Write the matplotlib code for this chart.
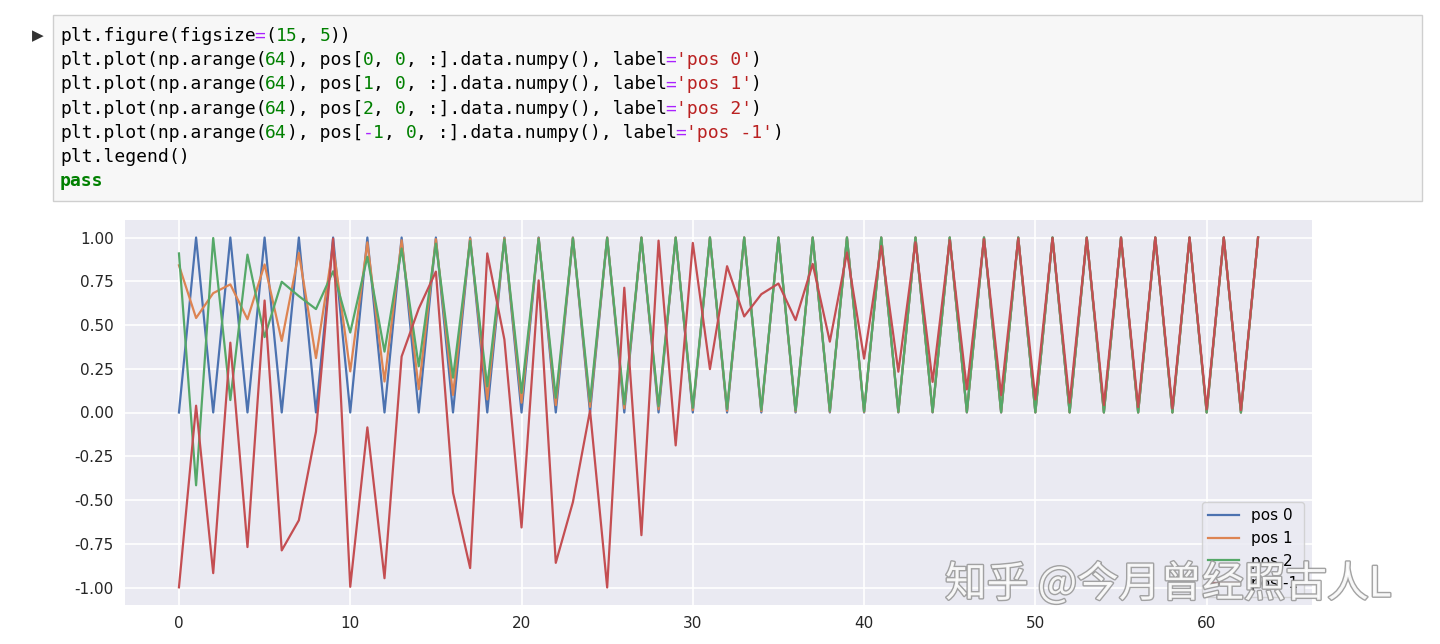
import numpy as np
import matplotlib
matplotlib.use("Agg")
import matplotlib.pyplot as plt
import matplotlib.patheffects as pe
from matplotlib.patches import Rectangle

x = np.arange(64)
pos0 = [0, 1] * 32
pos1 = [0.841, 0.540, 0.682, 0.732, 0.533, 0.846, 0.409, 0.912, 0.311, 0.950, 0.235, 0.972,
        0.177, 0.984, 0.133, 0.991, 0.100, 0.995, 0.075, 0.997, 0.056, 0.998, 0.042, 0.999,
        0.032, 1.000, 0.024, 1.000, 0.018, 1.000, 0.013, 1.000, 0.010, 1.000, 0.0075, 1.0,
        0.0056, 1.0, 0.0042, 1.0, 0.0032, 1.0, 0.0024, 1.0, 0.0018, 1.0, 0.0013, 1.0, 0.001, 1.0,
        0.00075, 1.0, 0.00056, 1.0, 0.00042, 1.0, 0.00032, 1.0, 0.00024, 1.0, 0.00018, 1.0,
        0.00013, 1.0]
pos2 = [0.909, -0.416, 0.997, 0.071, 0.902, 0.431, 0.747, 0.665, 0.591, 0.807, 0.457, 0.890,
        0.348, 0.937, 0.264, 0.965, 0.199, 0.980, 0.149, 0.989, 0.112, 0.994, 0.084, 0.996,
        0.063, 0.998, 0.047, 0.999, 0.036, 0.999, 0.027, 1.0, 0.020, 1.0, 0.015, 1.0, 0.011, 1.0,
        0.0084, 1.0, 0.0063, 1.0, 0.0047, 1.0, 0.0036, 1.0, 0.0027, 1.0, 0.002, 1.0, 0.0015, 1.0,
        0.0011, 1.0, 0.00084, 1.0, 0.00063, 1.0, 0.00047, 1.0, 0.00036, 1.0, 0.00027, 1.0]
posm1 = [-0.999, 0.039, -0.918, 0.399, -0.769, 0.640, -0.788, -0.616, -0.109, 0.994,
         -0.996, -0.085, -0.947, 0.320, 0.594, 0.805, -0.458, -0.889, 0.909, 0.417,
         -0.657, 0.755, -0.859, -0.512, 0.011, -1.000, 0.713, -0.701, 0.982, -0.188,
         0.969, 0.248, 0.836, 0.549, 0.676, 0.737, 0.528, 0.849, 0.405, 0.914,
         0.308, 0.951, 0.233, 0.973, 0.175, 0.985, 0.132, 0.991, 0.099, 0.995,
         0.074, 0.997, 0.056, 0.998, 0.042, 0.999, 0.031, 1.0, 0.023, 1.0, 0.018, 1.0, 0.013, 1.0]
labels = ['pos 0', 'pos 1', 'pos 2', 'pos -1']
colors = ['#4C72B0', '#DD8452', '#55A868', '#C44E52']

W, H = 1440, 644
fig = plt.figure(figsize=(14.4, 6.44), dpi=100)
fig.patch.set_facecolor('white')

# code cell
fig.add_artist(Rectangle((53 / W, 1 - 201 / H), (1422 - 53) / W, (201 - 15) / H,
                         transform=fig.transFigure, facecolor='#F7F7F7', edgecolor='#CFCFCF', lw=1))
fig.text(32 / W, 1 - 36 / H, '▶', fontsize=11, va='center', color='#333333')
K, G, P, R = 'black', '#008000', '#AA22FF', '#BA2121'
code = [
    [('plt.figure(figsize', K), ('=', P), ('(', K), ('15', G), (', ', K), ('5', G), ('))', K)],
] + [
    [('plt.plot(np.arange(', K), ('64', G), ('), pos[', K), (n, G), (', ', K), ('0', G),
     (', :].data.numpy(), label', K), ('=', P), ("'pos %s'" % n, R), (')', K)]
    for n in ['0', '1', '2', '-1']
] + [
    [('plt.legend', K), ('()', K)],
    [('pass', G)],
]
cw = 10.8
for li, segs in enumerate(code):
    y = 36 + li * 24.2
    col = 0
    for s, c in segs:
        if s.startswith('-') and c == G:
            fig.text((60 + col * cw) / W, 1 - y / H, '-', color=P, fontsize=13,
                     family='DejaVu Sans Mono', va='center')
            col += 1
            s = s[1:]
        fig.text((60 + col * cw) / W, 1 - y / H, s, color=c, fontsize=13,
                 family='DejaVu Sans Mono', va='center',
                 fontweight='bold' if s == 'pass' else 'normal')
        col += len(s)

ax = fig.add_axes([125 / W, 1 - 605 / H, (1312 - 125) / W, (605 - 220) / H])
ax.set_facecolor('#EAEAF2')
for s in ax.spines.values():
    s.set_visible(False)
ax.grid(True, color='white', lw=1.2)
ax.set_axisbelow(True)
for d, l, c in zip([pos0, pos1, pos2, posm1], labels, colors):
    ax.plot(x, d, label=l, color=c, lw=1.6)
ax.set_yticks([1.0, 0.75, 0.5, 0.25, 0.0, -0.25, -0.5, -0.75, -1.0])
ax.set_yticklabels(['1.00', '0.75', '0.50', '0.25', '0.00', '-0.25', '-0.50', '-0.75', '-1.00'])
ax.set_xticks([0, 10, 20, 30, 40, 50, 60])
ax.tick_params(length=0, labelsize=11, colors='#262626', pad=8)
ax.legend(loc='lower right', fontsize=11, facecolor='#EAEAF2', edgecolor='#CCCCCC', framealpha=0.8)

fig.text(945 / W, 1 - 584 / H, '知乎 @今月曾经照古人L', fontsize=30, color='white',
         family=['Noto Sans CJK SC', 'DejaVu Sans'], va='center', alpha=0.9,
         path_effects=[pe.withStroke(linewidth=2, foreground='#999999')])

fig.savefig('out.png', dpi=100)
